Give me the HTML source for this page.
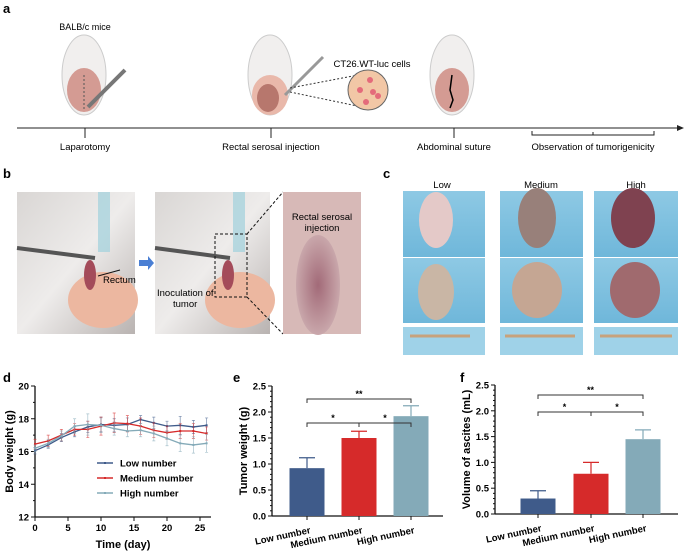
<!DOCTYPE html>
<html><head><meta charset="utf-8"><style>
html,body{margin:0;padding:0;background:#fff;width:685px;height:552px;overflow:hidden}
svg{display:block;font-family:"Liberation Sans",Arial,sans-serif}
</style></head><body>
<svg id="fig" width="685" height="552" viewBox="0 0 685 552" xmlns="http://www.w3.org/2000/svg">
<defs>
<linearGradient id="fur" x1="0" y1="0" x2="1" y2="1"><stop offset="0" stop-color="#d9d6d4"/><stop offset="0.5" stop-color="#eeeceb"/><stop offset="1" stop-color="#b9b3b1"/></linearGradient>
<linearGradient id="blue" x1="0" y1="0" x2="0" y2="1"><stop offset="0" stop-color="#8ec9e4"/><stop offset="1" stop-color="#6fb7da"/></linearGradient>
<radialGradient id="tis" cx="0.5" cy="0.5" r="0.5"><stop offset="0" stop-color="#a26a78"/><stop offset="1" stop-color="#c9a7ab"/></radialGradient>
</defs>
<!-- panel a -->
<text x="3" y="13" font-size="13" font-weight="bold">a</text>
<g>
<ellipse cx="84" cy="75" rx="22" ry="40" fill="#f1efee" stroke="#ccc"/>
<ellipse cx="84" cy="90" rx="17" ry="22" fill="#d49b93"/>
<line x1="84" y1="75" x2="84" y2="110" stroke="#555" stroke-dasharray="2,2"/>
<line x1="88" y1="107" x2="125" y2="70" stroke="#777" stroke-width="4"/>
</g>
<text x="85" y="30" font-size="9" text-anchor="middle">BALB/c mice</text>
<g>
<ellipse cx="270" cy="75" rx="22" ry="40" fill="#f1efee" stroke="#ccc"/>
<ellipse cx="270" cy="95" rx="18" ry="20" fill="#e9b8aa"/>
<ellipse cx="268" cy="98" rx="11" ry="14" fill="#b7776d"/>
<line x1="285" y1="95" x2="323" y2="57" stroke="#999" stroke-width="3"/>
<line x1="290" y1="88" x2="358" y2="75" stroke="#333" stroke-dasharray="2,2"/>
<line x1="290" y1="92" x2="362" y2="107" stroke="#333" stroke-dasharray="2,2"/>
<circle cx="368" cy="90" r="20" fill="#f2c7a6" stroke="#666"/>
<circle cx="370" cy="80" r="3" fill="#e46b7b"/><circle cx="360" cy="90" r="3" fill="#e46b7b"/><circle cx="373" cy="92" r="3" fill="#e46b7b"/><circle cx="366" cy="102" r="3" fill="#e46b7b"/><circle cx="378" cy="96" r="3" fill="#e46b7b"/>
</g>
<text x="372" y="67" font-size="9.5" text-anchor="middle">CT26.WT-luc cells</text>
<g>
<ellipse cx="452" cy="75" rx="22" ry="40" fill="#f1efee" stroke="#ccc"/>
<ellipse cx="452" cy="90" rx="17" ry="22" fill="#d49b93"/>
<path d="M452 75 L450 90 L453 100 L450 108" stroke="#000" fill="none" stroke-width="1.5"/>
</g>
<g>
<line x1="17" y1="128" x2="678" y2="128" stroke="#222" stroke-width="1"/>
<polygon points="684,128 677,125 677,131" fill="#222"/>
<line x1="85" y1="128" x2="85" y2="138" stroke="#222"/>
<line x1="271" y1="128" x2="271" y2="138" stroke="#222"/>
<line x1="454" y1="128" x2="454" y2="138" stroke="#222"/>
<path d="M532 131 V135 H654 V131 M593 135 V132" stroke="#222" fill="none"/>
</g>
<text x="85" y="150" font-size="9.5" text-anchor="middle">Laparotomy</text>
<text x="271" y="150" font-size="9.5" text-anchor="middle">Rectal serosal injection</text>
<text x="454" y="150" font-size="9.5" text-anchor="middle">Abdominal suture</text>
<text x="593" y="150" font-size="9.5" text-anchor="middle">Observation of tumorigenicity</text>
<!-- panel b -->
<text x="3" y="178" font-size="13" font-weight="bold">b</text>
<g>
<rect x="17" y="192" width="118" height="142" fill="url(#fur)"/>
<line x1="17" y1="248" x2="95" y2="258" stroke="#555" stroke-width="4"/>
<rect x="98" y="192" width="12" height="60" fill="#a9d3dd" opacity="0.8"/>
<ellipse cx="103" cy="300" rx="35" ry="28" fill="#ecb7a0"/>
<ellipse cx="90" cy="275" rx="6" ry="15" fill="#a44b5a"/>
<line x1="120" y1="270" x2="98" y2="276" stroke="#111"/>
</g>
<text x="103" y="283" font-size="9.5">Rectum</text>
<polygon points="139,260 148,260 148,256 154,263 148,270 148,266 139,266" fill="#4a7fd4"/>
<g>
<rect x="155" y="192" width="115" height="142" fill="url(#fur)"/>
<line x1="155" y1="248" x2="230" y2="258" stroke="#555" stroke-width="4"/>
<rect x="233" y="192" width="12" height="60" fill="#a9d3dd" opacity="0.8"/>
<ellipse cx="240" cy="300" rx="35" ry="28" fill="#ecb7a0"/>
<ellipse cx="228" cy="275" rx="6" ry="15" fill="#a44b5a"/>
<rect x="215" y="234" width="32" height="63" fill="none" stroke="#111" stroke-dasharray="3,2"/>
<line x1="247" y1="234" x2="283" y2="192" stroke="#111" stroke-dasharray="3,2"/>
<line x1="247" y1="297" x2="283" y2="334" stroke="#111" stroke-dasharray="3,2"/>
</g>
<text x="157" y="296" font-size="9.5">Inoculation of</text>
<text x="173" y="307" font-size="9.5">tumor</text>
<g>
<rect x="283" y="192" width="78" height="142" fill="#d7b9b7"/>
<ellipse cx="318" cy="285" rx="22" ry="50" fill="url(#tis)"/>
</g>
<text x="322" y="220" font-size="9.5" text-anchor="middle">Rectal serosal</text>
<text x="322" y="231" font-size="9.5" text-anchor="middle">injection</text>
<!-- panel c -->
<text x="383" y="178" font-size="13" font-weight="bold">c</text>
<text x="442" y="188" font-size="9.5" text-anchor="middle">Low</text>
<text x="541" y="188" font-size="9.5" text-anchor="middle">Medium</text>
<text x="636" y="188" font-size="9.5" text-anchor="middle">High</text>
<g>
<rect x="403" y="191" width="82" height="66" fill="url(#blue)"/><ellipse cx="436" cy="220" rx="17" ry="28" fill="#e4c9c8"/>
<rect x="500" y="191" width="83" height="66" fill="url(#blue)"/><ellipse cx="537" cy="218" rx="19" ry="30" fill="#98807a"/>
<rect x="594" y="191" width="84" height="66" fill="url(#blue)"/><ellipse cx="633" cy="218" rx="22" ry="30" fill="#7f4250"/>
<rect x="403" y="258" width="82" height="65" fill="url(#blue)"/><ellipse cx="436" cy="292" rx="18" ry="28" fill="#c9b6a5"/>
<rect x="500" y="258" width="83" height="65" fill="url(#blue)"/><ellipse cx="537" cy="290" rx="25" ry="28" fill="#c5a693"/>
<rect x="594" y="258" width="84" height="65" fill="url(#blue)"/><ellipse cx="635" cy="290" rx="25" ry="28" fill="#a06a6e"/>
<rect x="403" y="327" width="82" height="28" fill="#9fd2e8"/><line x1="410" y1="336" x2="470" y2="336" stroke="#c7a27c" stroke-width="3"/>
<rect x="500" y="327" width="83" height="28" fill="#9fd2e8"/><line x1="505" y1="336" x2="575" y2="336" stroke="#c7a27c" stroke-width="3"/>
<rect x="594" y="327" width="84" height="28" fill="#9fd2e8"/><line x1="600" y1="336" x2="672" y2="336" stroke="#c7a27c" stroke-width="3"/>
</g>
<!-- panels d e f -->
<text x="3" y="382" font-size="13" font-weight="bold">d</text>
<text x="233" y="382" font-size="13" font-weight="bold">e</text>
<text x="460" y="382" font-size="13" font-weight="bold">f</text>
<g id="chartD"></g>
<g id="chartE"></g>
<g id="chartF"></g>
</svg>
<script>
const days = [0,2,4,6,8,10,12,14,16,18,20,22,24,26];
const lowW = [16.05,16.4,16.85,17.2,17.5,17.65,17.6,17.65,17.95,17.75,17.55,17.6,17.5,17.6];
const medW = [16.45,16.65,17.0,17.35,17.35,17.55,17.75,17.7,17.55,17.3,17.15,17.25,17.25,17.1];
const highW = [16.2,16.5,16.95,17.55,17.65,17.6,17.4,17.25,17.3,17.1,16.8,16.5,16.4,16.5];
const lowErr = [0.2,0.2,0.25,0.3,0.35,0.45,0.4,0.4,0.25,0.35,0.3,0.55,0.4,0.45];
const medErr = [0.3,0.35,0.35,0.35,0.5,0.55,0.6,0.5,0.5,0.45,0.4,0.45,0.45,0.4];
const highErr = [0.2,0.25,0.3,0.45,0.65,0.45,0.4,0.35,0.4,0.45,0.45,0.5,0.5,0.55];
const seriesNames = ["Low number","Medium number","High number"];
const yTicksD = [12,14,16,18,20];
const xTicksD = [0,5,10,15,20,25];
const groups = ["Low number","Medium number","High number"];
const tumorW = [0.92,1.5,1.92];
const tumorErr = [0.2,0.13,0.2];
const ascites = [0.3,0.78,1.45];
const ascitesErr = [0.15,0.22,0.18];
const yTicksBar = [0.0,0.5,1.0,1.5,2.0,2.5];
const colors = ["#3f5b8a","#d62a2a","#84aab8"];
const NS="http://www.w3.org/2000/svg";
function mk(parent,tag,attrs,text){const e=document.createElementNS(NS,tag);for(const k in attrs)e.setAttribute(k,attrs[k]);if(text!==undefined)e.textContent=text;parent.appendChild(e);return e;}

// chart d
(function(){
const g=document.getElementById('chartD');
const x0=35,x1=211,yTop=386,yBot=517;
const xs=d=>x0+d*(200-35)/25;
const ys=v=>yBot-(v-12)/8*(yBot-yTop);
let a=mk(g,'line',{x1:x0,y1:yTop,x2:x0,y2:yBot,stroke:'#111','stroke-width':1.3});

a=mk(g,'line',{x1:x0,y1:yBot,x2:x1,y2:yBot,stroke:'#111','stroke-width':1.3});

for(let v=12;v<=20;v++){mk(g,'line',{x1:x0-(v%2?2:4),y1:ys(v),x2:x0,y2:ys(v),stroke:'#111'});}
yTicksD.forEach(v=>{const t=mk(g,'text',{x:x0-6,y:ys(v)+3.5,'font-size':9.5,'font-weight':'bold','text-anchor':'end'},v);
});
xTicksD.forEach(v=>{mk(g,'line',{x1:xs(v),y1:yBot,x2:xs(v),y2:yBot+4,stroke:'#111'});
const t=mk(g,'text',{x:xs(v),y:yBot+14,'font-size':9.5,'font-weight':'bold','text-anchor':'middle'},v);
});
let t=mk(g,'text',{x:(x0+x1)/2,y:548,'font-size':11,'font-weight':'bold','text-anchor':'middle'},'Time (day)');

t=mk(g,'text',{x:0,y:0,'font-size':11,'font-weight':'bold','text-anchor':'middle',transform:`translate(13,${(yTop+yBot)/2}) rotate(-90)`},'Body weight (g)');

const data=[lowW,medW,highW],errs=[lowErr,medErr,highErr];
data.forEach((s,i)=>{
 errs[i].forEach((e,j)=>{const x=xs(days[j]);
  mk(g,'path',{d:`M${x} ${ys(s[j]-e)}V${ys(s[j]+e)}M${x-1.5} ${ys(s[j]-e)}h3M${x-1.5} ${ys(s[j]+e)}h3`,stroke:colors[i],'stroke-width':0.7,fill:'none',opacity:0.7});});
 const p=mk(g,'polyline',{points:s.map((v,j)=>xs(days[j])+','+ys(v)).join(' '),fill:'none',stroke:colors[i],'stroke-width':1.3});
 
 s.forEach((v,j)=>mk(g,'rect',{x:xs(days[j])-1,y:ys(v)-1,width:2,height:2,fill:colors[i]}));
 const ly=463+i*15;
 mk(g,'line',{x1:97,y1:ly,x2:113,y2:ly,stroke:colors[i],'stroke-width':1.5});
 mk(g,'rect',{x:104,y:ly-1,width:2,height:2,fill:colors[i]});
 const lt=mk(g,'text',{x:120,y:ly+3.5,'font-size':9.5,'font-weight':'bold'},seriesNames[i]);
 
});
})();

function barChart(id,x0,x1,yTop,yBot,vals,errs,title,sig,centers,bw){
const g=document.getElementById(id);
const ys=v=>yBot-v/2.5*(yBot-yTop);
let a=mk(g,'line',{x1:x0,y1:yTop,x2:x0,y2:yBot,stroke:'#111','stroke-width':1.3});

a=mk(g,'line',{x1:x0,y1:yBot,x2:x1,y2:yBot,stroke:'#111','stroke-width':1.3});

for(let k=0;k<=25;k++){const v=k/10;mk(g,'line',{x1:x0-(k%5?2:4),y1:ys(v),x2:x0,y2:ys(v),stroke:'#111'});}
yTicksBar.forEach(v=>{const t=mk(g,'text',{x:x0-6,y:ys(v)+3.5,'font-size':9.5,'font-weight':'bold','text-anchor':'end'},v.toFixed(1));
});
vals.forEach((v,i)=>{const cx=centers[i];
 const e=errs[i];
 mk(g,'path',{d:`M${cx} ${ys(v)}V${ys(v+e)}M${cx-8} ${ys(v+e)}h16`,stroke:colors[i],'stroke-width':1.2,fill:'none'});
 const r=mk(g,'rect',{x:cx-bw/2,y:ys(v),width:bw,height:yBot-ys(v),fill:colors[i]});
 
 mk(g,'line',{x1:cx,y1:yBot,x2:cx,y2:yBot+4,stroke:'#111'});
 const t=mk(g,'text',{x:0,y:0,'font-size':9.5,'font-weight':'bold','text-anchor':'end',transform:`translate(${cx+4},${yBot+17}) rotate(-12)`},groups[i]);
 
});
const t=mk(g,'text',{x:0,y:0,'font-size':11,'font-weight':'bold','text-anchor':'middle',transform:`translate(${x0-25},${(yTop+yBot)/2}) rotate(-90)`},title);

const [yA,yB]=sig;
const c=centers;
mk(g,'path',{d:`M${c[0]} ${yA+4}V${yA}H${c[2]}V${yA+4}`,stroke:'#333',fill:'none'});
mk(g,'path',{d:`M${c[0]} ${yB+4}V${yB}H${c[2]}V${yB+4}M${c[1]} ${yB}V${yB+4}`,stroke:'#333',fill:'none'});
mk(g,'text',{x:(c[0]+c[2])/2,y:yA-2,'font-size':9,'font-weight':'bold','text-anchor':'middle'},'**');
mk(g,'text',{x:(c[0]+c[1])/2,y:yB-2,'font-size':9,'font-weight':'bold','text-anchor':'middle'},'*');
mk(g,'text',{x:(c[1]+c[2])/2,y:yB-2,'font-size':9,'font-weight':'bold','text-anchor':'middle'},'*');
}
barChart('chartE',272,443,386,516,tumorW,tumorErr,'Tumor weight (g)',[399,423],[307,359,411],35);
barChart('chartF',495,678,385,514,ascites,ascitesErr,'Volume of ascites (mL)',[395,412],[538,591,643],35);
</script>
</body></html>
